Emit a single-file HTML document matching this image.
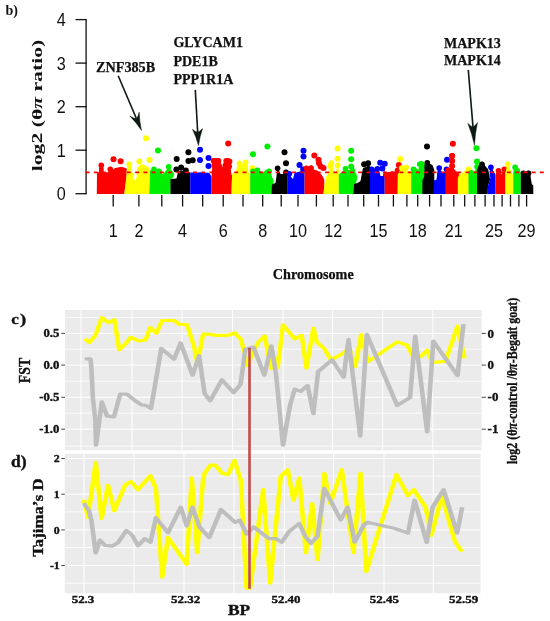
<!DOCTYPE html><html><head><meta charset="utf-8"><title>Figure</title><style>html,body{margin:0;padding:0;background:#fff;overflow:hidden;}svg{display:block;}.se{font-family:"Liberation Serif","Times New Roman",serif;font-weight:bold;fill:#111;}.sa{font-family:"Liberation Sans",Arial,sans-serif;fill:#111;}</style></head><body>
<svg width="550" height="621" viewBox="0 0 550 621">
<rect width="550" height="621" fill="#fff"/>
<text class="se" x="5.5" y="14.9" font-size="14">b)</text>
<text class="se" font-size="14" text-anchor="middle" transform="translate(41.8,105.5) rotate(-90) scale(1.548,1)">log2 (&#952;<tspan font-style="italic">&#960;</tspan> ratio)</text>
<g stroke="#111" stroke-width="1.3" fill="none">
<path d="M86.1,19.6 V194.1"/>
<path d="M75.5,193.7 H86.7"/>
<path d="M75.5,150.2 H86.7"/>
<path d="M75.5,106.7 H86.7"/>
<path d="M75.5,63.1 H86.7"/>
<path d="M75.5,19.6 H86.7"/>
<path d="M113.2,195 V206.5"/>
<path d="M138.9,195 V206.5"/>
<path d="M161.8,195 V206.5"/>
<path d="M182.6,195 V206.5"/>
<path d="M202.7,195 V206.5"/>
<path d="M223.2,195 V206.5"/>
<path d="M243,195 V206.5"/>
<path d="M262.7,195 V206.5"/>
<path d="M281.2,195 V206.5"/>
<path d="M298,195 V206.5"/>
<path d="M316.4,195 V206.5"/>
<path d="M333.2,195 V206.5"/>
<path d="M348,195 V206.5"/>
<path d="M363.7,195 V206.5"/>
<path d="M378.5,195 V206.5"/>
<path d="M393.4,195 V206.5"/>
<path d="M406.9,195 V206.5"/>
<path d="M417.7,195 V206.5"/>
<path d="M429.6,195 V206.5"/>
<path d="M441,195 V206.5"/>
<path d="M453.8,195 V206.5"/>
<path d="M464.7,195 V206.5"/>
<path d="M474.9,195 V206.5"/>
<path d="M485.1,195 V206.5"/>
<path d="M494,195 V206.5"/>
<path d="M502.1,195 V206.5"/>
<path d="M510.5,195 V206.5"/>
<path d="M518.9,195 V206.5"/>
<path d="M526.6,195 V206.5"/>
</g>
<text class="sa" font-size="18.6" text-anchor="end" transform="translate(65.8,200.3) scale(0.87,1)">0</text>
<text class="sa" font-size="18.6" text-anchor="end" transform="translate(65.8,156.8) scale(0.87,1)">1</text>
<text class="sa" font-size="18.6" text-anchor="end" transform="translate(65.8,113.3) scale(0.87,1)">2</text>
<text class="sa" font-size="18.6" text-anchor="end" transform="translate(65.8,69.7) scale(0.87,1)">3</text>
<text class="sa" font-size="18.6" text-anchor="end" transform="translate(65.8,26.2) scale(0.87,1)">4</text>
<text class="sa" font-size="18.6" text-anchor="middle" transform="translate(113.2,236.8) scale(0.87,1)">1</text>
<text class="sa" font-size="18.6" text-anchor="middle" transform="translate(138.9,236.8) scale(0.87,1)">2</text>
<text class="sa" font-size="18.6" text-anchor="middle" transform="translate(182.6,236.8) scale(0.87,1)">4</text>
<text class="sa" font-size="18.6" text-anchor="middle" transform="translate(223.2,236.8) scale(0.87,1)">6</text>
<text class="sa" font-size="18.6" text-anchor="middle" transform="translate(262.7,236.8) scale(0.87,1)">8</text>
<text class="sa" font-size="18.6" text-anchor="middle" transform="translate(298,236.8) scale(0.87,1)">10</text>
<text class="sa" font-size="18.6" text-anchor="middle" transform="translate(333.2,236.8) scale(0.87,1)">12</text>
<text class="sa" font-size="18.6" text-anchor="middle" transform="translate(378.5,236.8) scale(0.87,1)">15</text>
<text class="sa" font-size="18.6" text-anchor="middle" transform="translate(417.7,236.8) scale(0.87,1)">18</text>
<text class="sa" font-size="18.6" text-anchor="middle" transform="translate(453.8,236.8) scale(0.87,1)">21</text>
<text class="sa" font-size="18.6" text-anchor="middle" transform="translate(494,236.8) scale(0.87,1)">25</text>
<text class="sa" font-size="18.6" text-anchor="middle" transform="translate(526.6,236.8) scale(0.87,1)">29</text>
<g>
<g fill="#ff0000"><polygon points="96.8,194 97,172.2 99,172.2 99,168 101.3,162.5 103.6,168 103.8,172.2 108,172.2 110.3,166.5 112.5,170.5 115,168 118,167.5 121,167 124,167.5 126.7,168.5 126.7,176 124.3,194"/>
<circle cx="101.3" cy="165.3" r="2.8"/>
<circle cx="110.3" cy="169.3" r="2.8"/>
<circle cx="121" cy="169.8" r="2.8"/>
<circle cx="113.5" cy="159.3" r="3"/>
<circle cx="120.6" cy="161.2" r="3"/>
</g>
<g fill="#ffff00"><polygon points="124.3,194 126.5,176 127,168 129.3,161.5 131.6,168 131.6,175 133,179.5 135.3,180 136.7,177 137,168 139,166 142.5,164.3 145,165.5 147,166.5 149.6,168 149.3,194"/>
<circle cx="129.3" cy="164.3" r="2.8"/>
<circle cx="142.5" cy="167.1" r="2.8"/>
<circle cx="146" cy="138.2" r="3"/>
<circle cx="139.4" cy="161.5" r="3"/>
<circle cx="149.5" cy="160" r="3"/>
<circle cx="131.2" cy="175.3" r="3"/>
</g>
<g fill="#00ee00"><polygon points="149.3,194 150,170.5 152,169.5 154,166.5 156.5,170.5 159,168.5 161,171.5 162.9,174.5 165,171.5 166.5,170 168.7,164 171,170 173,171.8 174.2,174 173.5,177 171,179.5 170.5,194"/>
<circle cx="154" cy="169.3" r="2.8"/>
<circle cx="159" cy="171.3" r="2.8"/>
<circle cx="168.7" cy="166.8" r="2.8"/>
<circle cx="158" cy="150.5" r="3"/>
</g>
<g fill="#000000"><polygon points="170.5,194 170.5,179 174,178.8 176.5,178.5 177.5,174 178.5,172 181.1,170.5 183.5,172.5 185.8,171 188,172 190.2,172.5 190.2,194"/>
<circle cx="181.1" cy="173.3" r="2.8"/>
<circle cx="185.8" cy="173.8" r="2.8"/>
<circle cx="176.4" cy="169.6" r="3"/>
<circle cx="181.1" cy="167.5" r="3"/>
<circle cx="185.8" cy="170.4" r="3"/>
<circle cx="176.7" cy="159.1" r="3"/>
<circle cx="188.4" cy="152.2" r="3"/>
<circle cx="188.4" cy="160.9" r="3"/>
<circle cx="192.7" cy="160.2" r="3"/>
</g>
<g fill="#0000ff"><polygon points="190.2,194 190.2,172.5 195,172.5 200,172.5 204,172.8 207.5,172.8 209.5,174 211.3,176 211.3,194"/>
<circle cx="200" cy="175.3" r="2.8"/>
<circle cx="207.5" cy="175.6" r="2.8"/>
<circle cx="200" cy="149.7" r="3"/>
<circle cx="200" cy="160" r="3"/>
<circle cx="208.5" cy="158.1" r="3"/>
<circle cx="208.5" cy="166" r="3"/>
</g>
<g fill="#ff0000"><polygon points="211.3,194 211.3,178 212.2,169 213.5,158 216,161 218.5,158 221,163 222.6,167.5 224.5,163 227.5,158 230.5,161 230.5,169 231.8,176 231.8,182 231.6,194"/>
<circle cx="213.5" cy="160.8" r="2.8"/>
<circle cx="218.5" cy="160.8" r="2.8"/>
<circle cx="227.5" cy="160.8" r="2.8"/>
<circle cx="228.2" cy="143.5" r="3"/>
<circle cx="231" cy="178" r="3"/>
<circle cx="214.2" cy="161" r="3"/>
<circle cx="217.6" cy="161" r="3"/>
<circle cx="214.5" cy="165.5" r="3"/>
<circle cx="218" cy="166.5" r="3"/>
<circle cx="226.3" cy="161" r="3"/>
<circle cx="229.4" cy="161.5" r="3"/>
<circle cx="225.5" cy="165.5" r="3"/>
<circle cx="229" cy="166.5" r="3"/>
<circle cx="215.5" cy="170" r="3"/>
<circle cx="228" cy="171" r="3"/>
</g>
<g fill="#ffff00"><polygon points="231.6,194 232,176 233,172.5 236,172 237,166 239.5,160.5 242,164 245.7,159.5 247.5,164 248.5,172 250.2,176 250.2,194"/>
<circle cx="239.5" cy="163.3" r="2.8"/>
<circle cx="245.7" cy="162.3" r="2.8"/>
<circle cx="252.4" cy="168.3" r="3"/>
</g>
<g fill="#00ee00"><polygon points="250.2,194 250.2,174 251.5,171 253,168.5 255.5,170 257.3,167.5 260,171 263,172 266,170 269.1,168.5 271,172 272,177 273.6,180 273.5,186 272,194"/>
<circle cx="253" cy="171.3" r="2.8"/>
<circle cx="257.3" cy="170.3" r="2.8"/>
<circle cx="269.1" cy="171.3" r="2.8"/>
<circle cx="253" cy="154.2" r="3"/>
<circle cx="267.4" cy="146.6" r="3"/>
</g>
<g fill="#000000"><polygon points="271.5,194 271.9,185 273,184 275.5,183 276.5,176 277.6,165.5 279.5,172 280.5,174 283,174 286,169.5 287.7,171 287.7,194"/>
<circle cx="277.6" cy="168.3" r="2.8"/>
<circle cx="286" cy="172.3" r="2.8"/>
<circle cx="284.5" cy="152.2" r="3"/>
<circle cx="286" cy="163.2" r="3"/>
</g>
<g fill="#0000ff"><polygon points="287.5,194 287.5,178 289.4,171 291,177 293,179 294.5,173 298,172 301,171 303,166.5 304.6,171 304.6,194"/>
<circle cx="289.4" cy="173.8" r="2.8"/>
<circle cx="303" cy="169.3" r="2.8"/>
<circle cx="303.5" cy="150.8" r="3"/>
<circle cx="303.5" cy="156.5" r="3"/>
<circle cx="299.5" cy="164.9" r="3"/>
</g>
<g fill="#ff0000"><polygon points="304.6,194 304.6,171 306.5,165.5 309,168 311.1,165.3 313.5,169.5 316,170 318,171 320,173 322,175.6 324.1,179 324.5,186 323.5,194"/>
<circle cx="306.5" cy="168.3" r="2.8"/>
<circle cx="311.1" cy="168.1" r="2.8"/>
<circle cx="314.3" cy="155.5" r="3"/>
<circle cx="318.5" cy="159.8" r="3"/>
<circle cx="319" cy="163.2" r="3"/>
<circle cx="320.7" cy="166.6" r="3"/>
<circle cx="323.5" cy="168" r="3"/>
</g>
<g fill="#ffff00"><polygon points="323.5,194 324.5,184 325.5,179 327,175 328.5,172 329.5,166 331.4,160.2 333.3,166 334,172 335.5,173.4 336.5,170 337.6,162.5 338.8,170 339,174 338.8,194"/>
<circle cx="331.4" cy="163" r="2.8"/>
<circle cx="337.6" cy="165.3" r="2.8"/>
<circle cx="337.6" cy="148.6" r="3"/>
<circle cx="337.6" cy="158.7" r="3"/>
<circle cx="330.3" cy="166" r="3"/>
</g>
<g fill="#00ee00"><polygon points="338.8,194 338.8,174 341,173 343,171 345.5,166 348,170 351,170 352.5,168 354,171 356.5,174 357.4,178 356,183 354,194"/>
<circle cx="345.5" cy="168.8" r="2.8"/>
<circle cx="352.5" cy="170.8" r="2.8"/>
<circle cx="351.2" cy="150.8" r="3"/>
<circle cx="351.2" cy="159.3" r="3"/>
<circle cx="351.2" cy="166.6" r="3"/>
</g>
<g fill="#000000"><polygon points="353.5,194 354,184 357.5,183 360.5,181 361.8,174 363,168 366,167 368.5,166 370,168 370,194"/>
<circle cx="368.5" cy="168.8" r="2.8"/>
<circle cx="364.1" cy="164.3" r="3"/>
<circle cx="368.1" cy="163.2" r="3"/>
</g>
<g fill="#0000ff"><polygon points="370,194 370,171 371.8,166.6 374,169 377.4,166 379,170 380.5,176 383,176 384,172 384.7,168 384.7,194"/>
<circle cx="371.8" cy="169.4" r="2.8"/>
<circle cx="377.4" cy="168.8" r="2.8"/>
<circle cx="380.2" cy="162.7" r="3"/>
<circle cx="384.7" cy="163.8" r="3"/>
<circle cx="382.3" cy="168.5" r="3"/>
</g>
<g fill="#ff0000"><polygon points="384.7,194 384.7,174 386,172 389,172 392,171.5 395,172 397.7,170.5 398,176 397.7,194"/>
<circle cx="386" cy="174.8" r="2.8"/>
<circle cx="392" cy="174.3" r="2.8"/>
<circle cx="397.7" cy="173.3" r="2.8"/>
<circle cx="398.8" cy="164.9" r="3"/>
<circle cx="397.7" cy="170.5" r="3"/>
</g>
<g fill="#ffff00"><polygon points="397.7,194 397.7,175 399.5,171 401.7,165.3 404,170 406.2,164.7 407.6,170 407.3,176 409,174 410,171 411.2,172 411.2,194"/>
<circle cx="401.7" cy="168.1" r="2.8"/>
<circle cx="406.2" cy="167.5" r="2.8"/>
<circle cx="410" cy="173.8" r="2.8"/>
<circle cx="400.2" cy="158.9" r="3"/>
</g>
<g fill="#00ee00"><polygon points="411.2,194 411.2,173 413.5,166.5 416,168 418.5,170 419.7,161.5 421,164 423,163 424.5,167 424.5,178 424,194"/>
<circle cx="413.5" cy="169.3" r="2.8"/>
<circle cx="419.7" cy="164.3" r="2.8"/>
<circle cx="423" cy="165.8" r="2.8"/>
<circle cx="421.5" cy="164" r="3"/>
</g>
<g fill="#000000"><polygon points="422.3,194 422.5,180 424.2,177 424.5,165 427.3,160 430.3,164 432.4,165 434.3,170 434.3,178 434.1,194"/>
<circle cx="427.3" cy="162.8" r="2.8"/>
<circle cx="427" cy="146.5" r="3"/>
</g>
<g fill="#0000ff"><polygon points="433.5,194 434,180.5 436.5,179.5 437.3,172 439.2,165.3 441.2,171 442.6,173 444.5,172 446.5,166.5 447.5,172 446.5,194"/>
<circle cx="439.2" cy="168.1" r="2.8"/>
<circle cx="446.5" cy="169.3" r="2.8"/>
<circle cx="447" cy="159.8" r="3"/>
</g>
<g fill="#ff0000"><polygon points="445.4,194 445.4,172 446.5,169 448.2,167.5 450,168.5 451,163 452.1,153 453.2,163 454,169 456,171 457.5,172 459.5,174 459.5,194"/>
<circle cx="448.2" cy="170.3" r="2.8"/>
<circle cx="452.1" cy="155.8" r="2.8"/>
<circle cx="452.9" cy="143.8" r="3"/>
<circle cx="452.1" cy="156" r="3"/>
<circle cx="452.1" cy="161" r="3"/>
<circle cx="452.1" cy="166" r="3"/>
</g>
<g fill="#ffff00"><polygon points="457.8,194 457.8,178 459.5,174.5 461.7,173 464,172 466,169 468.5,166.5 469,172 468.5,194"/>
<circle cx="468.5" cy="169.3" r="2.8"/>
</g>
<g fill="#00ee00"><polygon points="468.5,194 468.5,173 471.3,170 473.5,172 475.5,170 477,164 478,170 477.5,194"/>
<circle cx="471.3" cy="172.8" r="2.8"/>
<circle cx="477" cy="166.8" r="2.8"/>
<circle cx="476.4" cy="148.3" r="3"/>
<circle cx="477" cy="161.5" r="3"/>
</g>
<g fill="#000000"><polygon points="477,194 477,170 478.5,166 480,163.5 482,161.5 484,164 486,167 488,169 489.5,175 490,180 488,186 487.7,194"/>
<circle cx="482" cy="164.3" r="2.8"/>
</g>
<g fill="#0000ff"><polygon points="487.7,194 488,186 490.3,178 489.5,172 490.9,164.5 492.8,170 494,172.5 495.4,174 495.4,194"/>
<circle cx="490.9" cy="167.3" r="2.8"/>
</g>
<g fill="#ff0000"><polygon points="495.4,194 495.4,176 496.5,172 498.5,168 500.5,172 501,174.5 502.5,172 504.3,166.5 505.5,171 505.5,194"/>
<circle cx="498.5" cy="170.8" r="2.8"/>
<circle cx="504.3" cy="169.3" r="2.8"/>
</g>
<g fill="#ffff00"><polygon points="505.5,194 505.5,172 506.5,168 507.8,161.5 509.3,168 511.5,171 513.2,176 513.2,194"/>
<circle cx="507.8" cy="164.3" r="2.8"/>
</g>
<g fill="#00ee00"><polygon points="513.2,194 513.2,172 514,169 515.1,164.5 517,168 519.5,168.5 520.5,172 520.8,177 520.8,194"/>
<circle cx="515.1" cy="167.3" r="2.8"/>
</g>
<g fill="#000000"><polygon points="520.8,194 520.8,175 521.5,173 523.4,170.5 526,173 528.5,170.5 530.5,174 530.7,177.5 531.8,184 533.3,185.5 533.3,194"/>
<circle cx="523.4" cy="173.3" r="2.8"/>
<circle cx="528.5" cy="173.3" r="2.8"/>
</g>
</g>
<path d="M85.6,172.4 H544" stroke="#ff0000" stroke-width="1.7" stroke-dasharray="3.9 4.36" fill="none"/>
<text class="se" x="96" y="71.8" font-size="14.2" stroke="#111" stroke-width="0.25">ZNF385B</text>
<text class="se" x="173.4" y="47" font-size="14" stroke="#111" stroke-width="0.25">GLYCAM1</text>
<text class="se" x="173.4" y="65.7" font-size="14" stroke="#111" stroke-width="0.25">PDE1B</text>
<text class="se" x="173.4" y="84.3" font-size="14" stroke="#111" stroke-width="0.25">PPP1R1A</text>
<text class="se" x="444" y="47.5" font-size="14" stroke="#111" stroke-width="0.25">MAPK13</text>
<text class="se" x="444" y="65.3" font-size="14" stroke="#111" stroke-width="0.25">MAPK14</text>
<path d="M118.2,75.7 L136.5,118.7" stroke="#0c1a12" stroke-width="1.6" fill="none"/>
<path d="M141.5,130.5 Q136.5,123 129.8,116.1 Q133.5,118.2 136.5,118.7 Q138.2,116.2 139.2,112.1 Q139.5,121.7 141.5,130.5 Z" fill="#0c1a12" stroke="#0c1a12" stroke-width="0.4" stroke-linejoin="round"/>
<path d="M195.3,89.9 L197.7,132.2" stroke="#0c1a12" stroke-width="1.6" fill="none"/>
<path d="M198.5,145.7 Q196.4,137.4 192.4,129.2 Q195.1,131.5 197.7,132.2 Q200.2,131.2 202.6,128.6 Q199.7,137.2 198.5,145.7 Z" fill="#0c1a12" stroke="#0c1a12" stroke-width="0.4" stroke-linejoin="round"/>
<path d="M468.3,70 L473,127.1" stroke="#0c1a12" stroke-width="1.6" fill="none"/>
<path d="M474.5,145.3 Q472,134.2 467.8,123.3 Q470.4,126 473,127.1 Q475.3,125.6 477.5,122.5 Q475.1,134 474.5,145.3 Z" fill="#0c1a12" stroke="#0c1a12" stroke-width="0.4" stroke-linejoin="round"/>
<text class="se" x="272.8" y="279.4" font-size="14.2" stroke="#111" stroke-width="0.25">Chromosome</text>
<rect x="65" y="310.1" width="416.7" height="140.2" fill="#ebebeb"/>
<rect x="64.8" y="453.8" width="415.8" height="139.3" fill="#ebebeb"/>
<g stroke="#fff" fill="none">
<path d="M65,317.4 H481.7" stroke-width="0.95" stroke-opacity="0.85"/>
<path d="M65,349.2 H481.7" stroke-width="0.95" stroke-opacity="0.85"/>
<path d="M65,381.2 H481.7" stroke-width="0.95" stroke-opacity="0.85"/>
<path d="M65,413.2 H481.7" stroke-width="0.95" stroke-opacity="0.85"/>
<path d="M65,446.2 H481.7" stroke-width="0.95" stroke-opacity="0.85"/>
<path d="M65,333.4 H481.7" stroke-width="1"/>
<path d="M65,365.1 H481.7" stroke-width="1"/>
<path d="M65,397.3 H481.7" stroke-width="1"/>
<path d="M65,429.2 H481.7" stroke-width="1"/>
<path d="M81,310.1 V450.3" stroke-width="1"/>
<path d="M132,310.1 V450.3" stroke-width="1"/>
<path d="M182,310.1 V450.3" stroke-width="1"/>
<path d="M232.5,310.1 V450.3" stroke-width="1"/>
<path d="M283,310.1 V450.3" stroke-width="1"/>
<path d="M332.5,310.1 V450.3" stroke-width="1"/>
<path d="M382.7,310.1 V450.3" stroke-width="1"/>
<path d="M432.8,310.1 V450.3" stroke-width="1"/>
<path d="M64.8,476.1 H480.6" stroke-width="0.95" stroke-opacity="0.85"/>
<path d="M64.8,511.8 H480.6" stroke-width="0.95" stroke-opacity="0.85"/>
<path d="M64.8,547.6 H480.6" stroke-width="0.95" stroke-opacity="0.85"/>
<path d="M64.8,583.2 H480.6" stroke-width="0.95" stroke-opacity="0.85"/>
<path d="M64.8,458.5 H480.6" stroke-width="1"/>
<path d="M64.8,494.2 H480.6" stroke-width="1"/>
<path d="M64.8,529.9 H480.6" stroke-width="1"/>
<path d="M64.8,565.5 H480.6" stroke-width="1"/>
<path d="M84,453.8 V593.1" stroke-width="1"/>
<path d="M134,453.8 V593.1" stroke-width="1"/>
<path d="M184,453.8 V593.1" stroke-width="1"/>
<path d="M234,453.8 V593.1" stroke-width="1"/>
<path d="M284.3,453.8 V593.1" stroke-width="1"/>
<path d="M333.5,453.8 V593.1" stroke-width="1"/>
<path d="M384,453.8 V593.1" stroke-width="1"/>
<path d="M433.2,453.8 V593.1" stroke-width="1"/>
</g>
<polyline transform="scale(1.4,1)" points="60.64,338.9 63.93,342.4 68.14,335.4 72.71,317.7 77.50,322.6 81.71,319.7 85.14,349.7 89.79,343.6 93.43,337.1 98.93,341 104.00,340 107.29,327.4 111.71,333.3 115.79,320.5 124.36,320.5 128.43,324.5 133.57,324.5 138.50,345.9 141.07,364 145.07,334.1 149.36,334.2 154.36,335.4 162.71,335.4 167.71,333 171.86,338.9 175.21,355.2 176.86,365.7 179.36,356.4 184.36,342.4 189.07,336 193.57,368.4 195.93,357 198.36,367.4 202.14,324.8 210.50,338.9 215.50,335.4 218.86,368.1 223.86,328.4 226.36,342.4 231.36,348.2 236.36,359.9 245.50,352.9 249.29,348 253.79,366.4 257.93,334.5 262.79,361.6 283.71,341.9 290.79,345.2 295.07,356.3 300.86,356.3 305.14,350.3 308.79,362.4 318.14,361.3 326.79,326.1 331.79,358.3" fill="none" stroke="#ffff00" stroke-width="3.2" stroke-linejoin="round" stroke-linecap="butt"/>
<polyline transform="scale(1.4,1)" points="60.57,358.9 64.64,358.9 65.21,366.1 66.36,398.4 68.07,419.4 68.64,445.2 72.71,401.9 76.43,416 81.43,416.8 85.86,394.2 90.64,394.2 96.86,401 101.00,404.8 104.14,405.3 107.86,408.5 115.21,348.5 124.36,359.1 129.00,343 137.57,375.1 142.21,355.8 146.21,393.6 150.14,400.8 158.50,379.8 166.86,392.6 171.86,384.4 175.21,349.4 181.07,347.1 188.79,375.1 193.86,345.9 197.14,373.9 202.14,445.2 207.14,405.5 210.50,389.1 214.71,391.4 219.71,385.6 223.86,413.6 227.21,371.6 237.21,359.9 245.50,377.1 248.93,339.4 257.29,436.1 262.07,334.5 283.71,405.5 292.93,397.6 296.57,336.2 305.14,431.9 309.50,341.2 326.79,375.5 331.07,324.1" fill="none" stroke="#bebebe" stroke-width="3.3" stroke-linejoin="round" stroke-linecap="butt"/>
<polyline transform="scale(1.4,1)" points="59.93,499.7 62.93,517.4 68.36,462.6 72.57,518.3 77.14,485.4 81.64,510.7 89.43,485 93.57,481.5 98.57,489.7 107.50,475.7 111.36,488.5 115.86,577.2 120.00,537.5 133.36,564.3 137.00,478 140.86,552.7 145.00,480.3 146.21,473.3 150.36,465.2 153.71,465.2 158.71,473.3 162.86,474.5 167.50,460.5 172.00,480.3 176.07,588 178.57,588 188.00,489.7 193.00,583 200.50,476.8 205.50,469.8 209.64,500.2 213.79,478 218.50,552.7 223.00,503.7 226.79,559.7 231.64,473.3 235.86,503.7 244.14,469.8 252.50,552.7 257.50,473.3 261.64,571.3 283.14,474.5 291.43,495.6 295.64,489.7 304.00,507.2 308.14,535.3 315.64,495.6 324.86,541.1 329.86,551.6" fill="none" stroke="#ffff00" stroke-width="3.3" stroke-linejoin="round" stroke-linecap="butt"/>
<polyline transform="scale(1.4,1)" points="59.93,503.1 63.57,510.7 65.36,520.8 68.36,552.9 71.43,540.2 75.00,545.3 79.86,546.1 84.29,542.8 90.21,530.5 94.29,535 98.57,545.7 103.36,538.7 107.50,542.2 111.36,517.7 120.00,532.8 129.14,507.2 133.36,525.8 137.50,507.2 142.50,527 149.50,537.5 157.86,509.5 167.86,522.3 171.21,520 176.21,534 181.21,527 192.14,538.7 197.14,538.7 201.29,542.2 206.29,531.7 213.79,523.5 218.00,536.3 222.14,543.3 226.79,536.3 231.64,488.5 243.36,520 248.36,507.2 253.36,542.2 260.00,524.7 262.50,522.3 281.43,528.3 291.43,533 296.14,500.2 304.79,542.3 309.00,507.2 316.86,489.7 326.50,533 330.14,507.2" fill="none" stroke="#bebebe" stroke-width="3.3" stroke-linejoin="round" stroke-linecap="butt"/>
<path d="M249.5,347.8 V588.8" stroke="#c44a4c" stroke-width="2.6"/>
<g stroke="#444" stroke-width="1" fill="none">
<path d="M61.3,333.4 H65"/>
<path d="M481.7,333.4 H485.8"/>
<path d="M61.3,365.1 H65"/>
<path d="M481.7,365.1 H485.8"/>
<path d="M61.3,397.3 H65"/>
<path d="M481.7,397.3 H485.8"/>
<path d="M61.3,429.2 H65"/>
<path d="M481.7,429.2 H485.8"/>
<path d="M61.3,458.5 H64.8"/>
<path d="M61.3,494.2 H64.8"/>
<path d="M61.3,529.9 H64.8"/>
<path d="M61.3,565.5 H64.8"/>
</g>
<text class="se" font-size="11.5" text-anchor="end" transform="translate(59.3,336.9) scale(1.1,1)" stroke="#111" stroke-width="0.35">0.5</text>
<text class="se" font-size="11.5" text-anchor="end" transform="translate(59.3,368.6) scale(1.1,1)" stroke="#111" stroke-width="0.35">0.0</text>
<text class="se" font-size="11.5" text-anchor="end" transform="translate(59.3,400.8) scale(1.1,1)" stroke="#111" stroke-width="0.35">-0.5</text>
<text class="se" font-size="11.5" text-anchor="end" transform="translate(59.3,432.7) scale(1.1,1)" stroke="#111" stroke-width="0.35">-1.0</text>
<text class="se" font-size="11.8" text-anchor="start" transform="translate(487.6,337.5) scale(1.1,1)" stroke="#111" stroke-width="0.35">0</text>
<text class="se" font-size="11.8" text-anchor="start" transform="translate(487.6,369.2) scale(1.1,1)" stroke="#111" stroke-width="0.35">0</text>
<text class="se" font-size="11.8" text-anchor="start" transform="translate(487.6,401.4) scale(1.1,1)" stroke="#111" stroke-width="0.35">-0</text>
<text class="se" font-size="11.8" text-anchor="start" transform="translate(487.6,433.3) scale(1.1,1)" stroke="#111" stroke-width="0.35">-1</text>
<text class="se" font-size="10.8" text-anchor="end" transform="translate(59.8,462.1) scale(1.1,1)" stroke="#111" stroke-width="0.35">2</text>
<text class="se" font-size="10.8" text-anchor="end" transform="translate(59.8,497.8) scale(1.1,1)" stroke="#111" stroke-width="0.35">1</text>
<text class="se" font-size="10.8" text-anchor="end" transform="translate(59.8,533.5) scale(1.1,1)" stroke="#111" stroke-width="0.35">0</text>
<text class="se" font-size="10.8" text-anchor="end" transform="translate(59.8,569.1) scale(1.1,1)" stroke="#111" stroke-width="0.35">-1</text>
<text class="se" font-size="10.8" text-anchor="middle" transform="translate(83,603.3) scale(1.2,1)" stroke="#111" stroke-width="0.35">52.3</text>
<text class="se" font-size="10.8" text-anchor="middle" transform="translate(185.6,603.3) scale(1.2,1)" stroke="#111" stroke-width="0.35">52.32</text>
<text class="se" font-size="10.8" text-anchor="middle" transform="translate(286,603.3) scale(1.2,1)" stroke="#111" stroke-width="0.35">52.40</text>
<text class="se" font-size="10.8" text-anchor="middle" transform="translate(384.4,603.3) scale(1.2,1)" stroke="#111" stroke-width="0.35">52.45</text>
<text class="se" font-size="10.8" text-anchor="middle" transform="translate(463.6,603.3) scale(1.2,1)" stroke="#111" stroke-width="0.35">52.59</text>
<text class="se" font-size="14.5" text-anchor="middle" transform="translate(239.1,614.5) scale(1.2,1)" stroke="#111" stroke-width="0.35">BP</text>
<text class="se" font-size="15.5" text-anchor="start" transform="translate(11.3,323.6) scale(1.1,1)" stroke="#111" stroke-width="0.35">c</text>
<text class="se" font-size="15.5" text-anchor="start" transform="translate(20,323.6) scale(1.2,1)" stroke="#111" stroke-width="0.35">)</text>
<text class="se" font-size="16" text-anchor="start" transform="translate(11,466.7) scale(1.1,1)" stroke="#111" stroke-width="0.35">d</text>
<text class="se" font-size="16" text-anchor="start" transform="translate(20.8,466.7) scale(1.1,1)" stroke="#111" stroke-width="0.35">)</text>
<text class="se" font-size="17.3" text-anchor="middle" transform="translate(30.4,370.5) rotate(-90) scale(0.8,1)" stroke="#111" stroke-width="0.35">FST</text>
<text class="se" font-size="14" text-anchor="middle" transform="translate(42.7,517.6) rotate(-90) scale(1.2,1)" stroke="#111" stroke-width="0.35">Tajima&#8217;s D</text>
<text class="se" font-size="15" text-anchor="middle" transform="translate(517.3,380.9) rotate(-90) scale(0.8,1)" stroke="#111" stroke-width="0.35">log2 (&#952;<tspan font-style="italic">&#960;</tspan>-control /&#952;<tspan font-style="italic">&#960;</tspan>-Begait goat)</text>
</svg></body></html>
